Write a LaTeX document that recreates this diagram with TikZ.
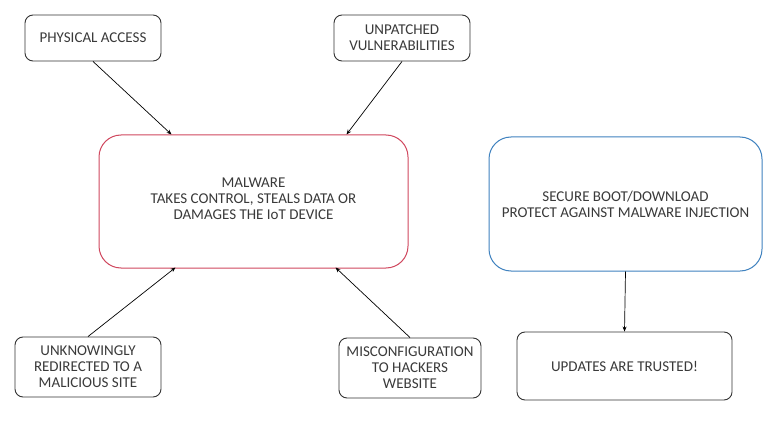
\documentclass[tikz,border=0pt]{standalone}
\usepackage{fontspec}
\setmainfont{Carlito}
\usetikzlibrary{arrows.meta}
\definecolor{malred}{HTML}{D0475E}
\definecolor{secblue}{HTML}{3F82BF}
\definecolor{txt}{HTML}{3A3A3A}
\definecolor{edge}{HTML}{333333}
\tikzset{
  sbox/.style={draw=edge, line width=0.9pt, rounded corners=8pt, align=center,
    text=txt, font=\fontsize{15}{16}\selectfont, inner sep=0pt},
  bigbox/.style={sbox, line width=1pt, rounded corners=22pt},
  conn/.style={draw=black, line width=0.7pt, -{Stealth[length=5pt,width=4pt]}}
}
\begin{document}
\begin{tikzpicture}[x=1pt,y=-1pt]
\useasboundingbox (0,0) rectangle (770,422);
\fill[white] (0,0) rectangle (770,422);
\node[sbox, minimum width=136pt, minimum height=46pt] (pa) at (93,38) {PHYSICAL ACCESS};
\node[sbox, minimum width=136pt, minimum height=46pt] (up) at (402,38) {UNPATCHED\\VULNERABILITIES};
\node[bigbox, draw=malred, minimum width=309pt, minimum height=133pt] (mal) at (253.5,201.5) {MALWARE\\TAKES CONTROL, STEALS DATA OR\\DAMAGES THE IoT DEVICE\\[-10pt]};
\node[bigbox, draw=secblue, minimum width=273pt, minimum height=134pt] (sec) at (625.5,204) {SECURE BOOT/DOWNLOAD\\PROTECT AGAINST MALWARE INJECTION};
\node[sbox, minimum width=215pt, minimum height=68pt] (upd) at (624.5,366) {UPDATES ARE TRUSTED!};
\node[sbox, minimum width=146pt, minimum height=60pt] (un) at (88,367) {UNKNOWINGLY\\REDIRECTED TO A\\MALICIOUS SITE};
\node[sbox, minimum width=142pt, minimum height=60pt] (mis) at (410,368) {MISCONFIGURATION\\TO HACKERS\\WEBSITE};
\draw[conn] (pa.south) -- ([xshift=73pt]mal.north west);
\draw[conn] (up.south) -- ([xshift=-62pt]mal.north east);
\draw[conn] (un.north) -- ([xshift=77pt,yshift=1pt]mal.south west);
\draw[conn] (mis.north) -- ([xshift=-73pt,yshift=1pt]mal.south east);
\draw[conn] (sec.south) -- (upd.north);
\end{tikzpicture}
\end{document}
